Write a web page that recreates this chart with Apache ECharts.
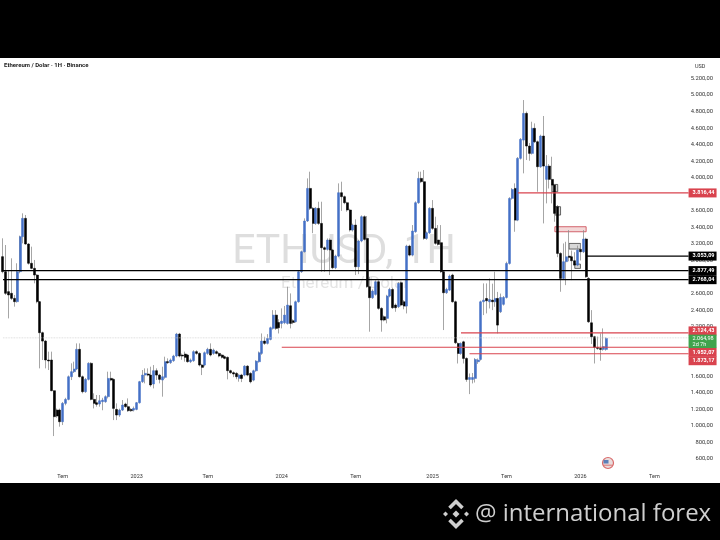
<!DOCTYPE html>
<html><head><meta charset="utf-8">
<style>html,body{margin:0;padding:0;background:#000}#c{width:720px;height:540px;filter:blur(0.3px)}</style>
<script src="https://cdn.jsdelivr.net/npm/echarts@6/dist/echarts.min.js"></script>
</head><body><div id="c"></div>
<script>
// weekly candles: [open, close, low, high]
const candles2022 = [[3046,2865,2845,3268],[2865,2603,2583,3187],[2623,2583,2300,2885],[2603,2542,2522,3026],[2542,2502,2442,2583],[2502,2865,2490,2966],[2865,3288,2845,3300],[3288,3509,3207,3570],[3509,3199,3190,3550],[3199,2966,2950,3210],[2966,2905,2895,3167],[2905,2824,2724,3006],[2824,2502,2482,2835],[2502,2127,1696,2510],[2127,2026,1797,2140],[2026,1797,1696,2040],[1797,1785,1676,1898],[1797,1426,1420,1898],[1426,1112,878,1430],[1192,1120,1100,1210],[1192,1051,991,1210],[1051,1273,1011,1290],[1273,1321,1250,1340],[1321,1595,1310,1610],[1595,1656,1555,1757],[1656,1688,1640,1777],[1688,1926,1675,1998],[1926,1595,1585,1998],[1595,1414,1394,1610],[1414,1563,1400,1580],[1563,1757,1550,1770],[1757,1321,1310,1770],[1321,1273,1212,1394],[1281,1261,1233,1374],[1265,1305,1233,1374],[1293,1313,1190,1340],[1293,1354,1280,1370],[1354,1575,1333,1656],[1575,1555,1540,1656],[1563,1212,1071,1575],[1200,1132,1071,1273],[1132,1192,1110,1210],[1192,1253,1180,1313],[1265,1233,1220,1281],[1233,1184,1170,1333],[1200,1184,1170,1215],[1192,1212,1175,1235]];
const candles2023 = [[1200,1281,1190,1290],[1281,1535,1270,1545],[1535,1615,1520,1676],[1615,1636,1515,1696],[1628,1615,1600,1696],[1615,1495,1474,1716],[1507,1668,1454,1736],[1668,1615,1555,1696],[1615,1563,1515,1630],[1555,1595,1354,1716],[1587,1777,1570,1837],[1777,1765,1750,1817],[1765,1797,1750,1815],[1789,1845,1775,1860],[1845,2111,1830,2125],[2111,1845,1830,2125],[1857,1845,1800,1875],[1869,1829,1777,1898],[1857,1777,1765,1870],[1777,1797,1760,1815],[1789,1898,1775,1915],[1898,1877,1860,1915],[1877,1736,1720,1890],[1736,1708,1615,1750],[1736,1885,1720,1900],[1877,1926,1860,1945],[1926,1857,1840,1998],[1877,1918,1860,1935],[1898,1877,1865,1915],[1877,1845,1830,1890],[1857,1829,1815,1870],[1837,1817,1805,1850],[1829,1668,1563,1840],[1668,1644,1630,1680],[1644,1628,1590,1660],[1636,1595,1565,1650],[1575,1615,1535,1630],[1615,1574,1530,1630],[1615,1723,1600,1735],[1723,1615,1600,1735],[1635,1534,1515,1650],[1554,1667,1540,1680],[1667,1784,1655,1795],[1776,1885,1765,1900],[1877,2026,1860,2118],[2026,1998,1980,2078],[1998,2058,1985,2110],[2046,2187,2035,2200],[2179,2340,2165,2400],[2340,2179,2160,2400],[2251,2187,2118,2290],[2239,2267,2179,2421]];
const candles2024 = [[2247,2340,2230,2450],[2239,2461,2225,2683],[2453,2239,2179,2602],[2272,2251,2230,2290],[2260,2501,2250,2515],[2501,2864,2490,2875],[2864,3106,2850,3120],[3106,3477,3095,3509],[3477,3871,3465,3992],[3871,3630,3610,4073],[3630,3448,3330,3645],[3448,3630,3430,3645],[3630,3448,3430,3710],[3448,3154,2864,3710],[3154,3134,2864,3170],[3134,3247,3120,3267],[3247,3126,2824,3267],[3126,2912,2895,3140],[2912,3053,2895,3070],[3053,3819,3040,3932],[3819,3771,3600,3952],[3771,3698,3680,3785],[3698,3610,3590,3710],[3610,3368,3350,3625],[3368,3428,3350,3445],[3428,2924,2824,3497],[2924,3235,2835,3250],[3235,3529,3220,3545],[3529,3255,3240,3545],[3267,2683,2670,3537],[2683,2550,2139,2803],[2550,2630,2535,2650],[2590,2743,2575,2760],[2743,2421,2405,2760],[2421,2280,2139,2435],[2320,2280,2265,2335],[2300,2570,2240,2585],[2570,2650,2555,2670],[2650,2429,2415,2670],[2461,2429,2380,2480],[2441,2723,2425,2740],[2731,2461,2445,2745],[2501,2449,2410,2520],[2449,3174,2360,3190],[3174,3065,3050,3190],[3065,3356,3050,3428],[3348,3698,3335,3715],[3698,3992,3685,4073],[3992,3952,3935,4073],[3952,3267,3250,4093],[3267,3335,3250,3350],[3335,3630,3320,3645]];
const candles2025 = [[3630,3388,3370,3730],[3388,3207,3190,3529],[3247,3194,3180,3428],[3215,2864,2850,3428],[2864,2610,2159,2880],[2610,2650,2595,2670],[2642,2812,2630,2830],[2824,2501,2490,2840],[2501,2006,1990,2515],[1997,1876,1755,2010],[1876,1997,1860,2010],[2017,1816,1755,2030],[1816,1562,1534,1830],[1562,1586,1385,1634],[1562,1586,1514,1640],[1574,1804,1525,1820],[1776,1796,1750,1815],[1804,2501,1790,2515],[2501,2521,2340,2723],[2541,2513,2360,2723],[2501,2529,2420,2783],[2521,2501,2400,2720],[2501,2541,2440,2864],[2541,2219,2118,2620],[2380,2553,2365,2600],[2470,2553,2455,2570],[2553,2964,2540,2985],[2964,3750,2950,3765],[3750,3859,3735,3875],[3871,3488,3347,3932],[3488,4234,3475,4250],[4234,4464,4220,4480],[4455,4778,4053,4939],[4778,4383,4214,4800],[4383,4294,4205,4420],[4294,4597,4280,4677],[4597,4435,4420,4657],[4435,4133,3831,4450],[4133,4504,4120,4520],[4504,4141,3448,4746],[3980,4141,3690,4274],[4141,3980,3870,4165],[3980,3911,3690,4254],[3911,3569,3468,3925],[3650,3085,3040,3670],[3085,2783,2622,3100],[2783,2985,2770,3206],[2985,3045,2702,3226],[3053,3037,2990,3367],[3045,2997,2763,3120],[2997,2944,2910,3100],[2944,3126,2930,3180]];
const candles2026 = [[3134,3105,3000,3200],[3105,3259,3090,3367],[3259,2803,2790,3275],[2783,2259,2245,2800],[2247,2078,1990,2400],[2078,1949,1755,2090],[1949,1937,1920,2080],[1937,1925,1788,2118],[1925,1960,1910,2179],[1925,2058,1910,2070]];
const candles = [...candles2022, ...candles2023, ...candles2024, ...candles2025, ...candles2026];

const slotCount = 252;
const xTickIndex = [21, 47, 72, 98, 124, 151, 177, 203, 229];
const xTickLabels = ['Tem', '2023', 'Tem', '2024', 'Tem', '2025', 'Tem', '2026', 'Tem'];

const yTickValues = [5200,5000,4800,4600,4400,4200,4000,3800,3600,3400,3200,3000,2800,2600,2400,2200,2000,1800,1600,1400,1200,1000,800,600];
const yTickLabels = ['5.200,00','5.000,00','4.800,00','4.600,00','4.400,00','4.200,00','4.000,00','3.800,00','3.600,00','3.400,00','3.200,00','3.000,00','2.800,00','2.600,00','2.400,00','2.200,00','2.000,00','1.800,00','1.600,00','1.400,00','1.200,00','1.000,00','800,00','600,00'];

// horizontal levels
const levelValues = [3816.44, 3053.09, 2877.49, 2768.04, 2124.43, 1952.07, 1873.17];
const levelText   = ['3.816,44','3.053,09','2.877,49','2.768,04','2.124,43','1.952,07','1.873,17'];
const levelStart  = [181, 205, 0, 0, 161, 98, 164];
const levelColor  = ['#d9434e','#000000','#000000','#000000','#d9434e','#d9434e','#d9434e'];
const levelLabelShift = [0, 0, 0, 0, -2, 5, 7];
const levelEnd = 241;
const lastPrice = 2064.98;
const lastPriceText = '2.064,98\n2d 7h';

// drawn annotation boxes: [startIdx, endIdx, top value, bottom value]
const greyBoxes = [[193,195,3919,3831],[194,196,3650,3549],[199,203,3206,3138],[201,203,2956,2904]];
const redBoxes = [[194,205,3408,3347]];

const cats = Array.from({length: slotCount}, (_, i) => 'w' + i);
const xLabelByCat = {};
xTickIndex.forEach((idx, k) => { xLabelByCat['w' + idx] = xTickLabels[k]; });
const yLabelByValue = {};
yTickValues.forEach((v, k) => { yLabelByValue[v] = yTickLabels[k]; });

const bodies = candles.map(c => [c[0], c[1], Math.min(c[0], c[1]), Math.max(c[0], c[1])]);
const UP = '#4470c6', DOWN = '#000000', WICK = '#8f8f8f';
const FONT = 'Roboto, "Noto Sans", sans-serif';

function levelSeries(value, start, color, text, shift, lineType, width, isLast) {
  return {
    type: 'line', data: [[start, value], [levelEnd, value]], z: 4, silent: true,
    symbol: 'none', showSymbol: false, clip: false,
    lineStyle: { color: color, width: width, type: lineType },
    itemStyle: { color: color },
    endLabel: {
      show: true, formatter: text, distance: 0, offset: [0, shift], color: '#fff', fontFamily: FONT,
      fontSize: 5.5, fontWeight: isLast ? 'normal' : 'bold', lineHeight: isLast ? 6.2 : 6,
      backgroundColor: isLast ? '#3fa34d' : color, width: 23, align: 'left',
      padding: isLast ? [0.5, 1, 0.5, 4] : [1.5, 1, 1.5, 4]
    }
  };
}
const levelLines = levelValues.map((v, k) =>
  levelSeries(v, levelStart[k], levelColor[k], levelText[k], levelLabelShift[k], 'solid', 1.1, false));
levelLines.push(levelSeries(lastPrice, 0, '#d0d0d0', lastPriceText, 3.5, 'dotted', 0.8, true));

const areaData = greyBoxes.map(b => [
  { coord: [b[0], b[2]], itemStyle: { color: 'rgba(200,200,200,0.7)', borderColor: '#444', borderWidth: 0.8 } },
  { coord: [b[1], b[3]] }
]).concat(redBoxes.map(b => [
  { coord: [b[0], b[2]], itemStyle: { color: 'rgba(235,190,190,0.6)', borderColor: '#c9434e', borderWidth: 0.8 } },
  { coord: [b[1], b[3]] }
]));

const chart = echarts.init(document.getElementById('c'), null, { renderer: 'canvas' });
chart.setOption({
  animation: false,
  backgroundColor: '#000',
  grid: { left: 0, right: 0, top: 61.9, height: 413.7, containLabel: false },
  xAxis: {
    type: 'category', data: cats, boundaryGap: true,
    axisLine: { show: false }, axisTick: { show: false }, splitLine: { show: false },
    axisLabel: { show: true, interval: 0, margin: -2, fontSize: 5.5, color: '#333', fontFamily: FONT, hideOverlap: false,
      formatter: v => xLabelByCat[v] || '' }
  },
  yAxis: {
    type: 'value', position: 'right', min: 400, max: 5400, interval: 200, scale: true,
    axisLine: { show: false }, axisTick: { show: false }, splitLine: { show: false },
    axisLabel: { inside: true, margin: 5.5, fontSize: 5.8, color: '#333', fontFamily: FONT,
      formatter: v => yLabelByValue[v] || '' }
  },
  title: [
    { text: 'Ethereum / Dolar · 1H · Binance', left: 4, top: 62.5, padding: 0,
      textStyle: { fontSize: 6, fontWeight: 'bold', color: '#222', fontFamily: FONT } },
    { text: 'USD', left: 695, top: 63.5, padding: 0,
      textStyle: { fontSize: 5.5, fontWeight: 'normal', color: '#333', fontFamily: FONT } }
  ],
  graphic: [
    { type: 'rect', silent: true, z: -10, shape: { x: 0, y: 58, width: 720, height: 425 }, style: { fill: '#fff' } },
    { type: 'text', silent: true, z: -5, x: 344, y: 253, style: { text: 'ETHUSD, 1H', fill: '#dedede', font: '41px Roboto, sans-serif', textAlign: 'center', textVerticalAlign: 'middle' } },
    { type: 'text', silent: true, z: -5, x: 345, y: 284, style: { text: 'Ethereum / Dolar', fill: '#e4e4e4', font: '17px Roboto, sans-serif', textAlign: 'center', textVerticalAlign: 'middle' } },
    // flag icon
    { type: 'circle', silent: true, z: 5, shape: { cx: 608, cy: 463, r: 5.5 }, style: { fill: '#e9dcdc', stroke: '#d96a6a', lineWidth: 1.2 } },
    { type: 'rect', silent: true, z: 6, shape: { x: 603.5, y: 460, width: 5, height: 3.5 }, style: { fill: '#5a7fb8' } },
    { type: 'line', silent: true, z: 6, shape: { x1: 603, y1: 465.2, x2: 613, y2: 465.2 }, style: { stroke: '#d96a6a', lineWidth: 0.9 } },
    // logo
    { type: 'polyline', silent: true, z: 5, shape: { points: [[449.5,508],[456,501.5],[462.5,508]] }, style: { stroke: '#cfcfcf', lineWidth: 3.6, fill: null } },
    { type: 'polyline', silent: true, z: 5, shape: { points: [[449.5,520],[456,526.5],[462.5,520]] }, style: { stroke: '#cfcfcf', lineWidth: 3.6, fill: null } },
    { type: 'polygon', silent: true, z: 5, shape: { points: [[456,510.5],[459.5,514],[456,517.5],[452.5,514]] }, style: { fill: '#cfcfcf' } },
    { type: 'polygon', silent: true, z: 5, shape: { points: [[445.5,511.5],[448,514],[445.5,516.5],[443,514]] }, style: { fill: '#cfcfcf' } },
    { type: 'polygon', silent: true, z: 5, shape: { points: [[466.5,511.5],[469,514],[466.5,516.5],[464,514]] }, style: { fill: '#cfcfcf' } },
    { type: 'text', silent: true, z: 5, x: 475, y: 514.5, style: { text: '@ international forex', fill: '#cfcfcf', font: '24px "Open Sans", sans-serif', textVerticalAlign: 'middle' } }
  ],
  series: [
    { name: 'wicks', type: 'candlestick', data: candles, barWidth: 1, z: 2, silent: true,
      itemStyle: { color: WICK, color0: WICK, borderColor: WICK, borderColor0: WICK, borderWidth: 0.8 } },
    { name: 'bodies', type: 'candlestick', data: bodies, barWidth: 2.5, z: 3, silent: true,
      itemStyle: { color: UP, color0: DOWN, borderColor: UP, borderColor0: DOWN, borderWidth: 0.5 },
      markArea: { silent: true, data: areaData } }
  ].concat(levelLines)
});
</script>
</body></html>
